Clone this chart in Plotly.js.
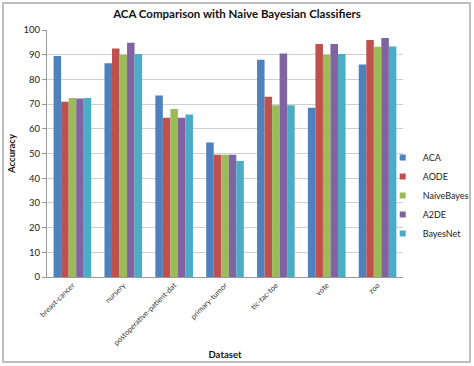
<!DOCTYPE html>
<html><head><meta charset="utf-8">
<script src="https://cdn.plot.ly/plotly-3.0.1.min.js"></script>
<style>html,body{margin:0;padding:0;background:#fff}#c{width:474px;height:366px}</style>
</head><body><div id="c"></div>
<script>
const categories = ["breast-cancer","nursery","postoperative-patient-dat","primary-tumor","tic-tac-toe","vote","zoo"];
const seriesNames = ["ACA","AODE","NaiveBayes","A2DE","BayesNet"];
const ACA = [89.5, 86.5, 73.5, 54.5, 88, 68.5, 86];
const AODE = [71, 92.5, 64.5, 49.5, 73, 94.3, 96];
const NaiveBayes = [72.5, 90, 68, 49.5, 69.5, 90, 93.2];
const A2DE = [72.3, 94.8, 64.5, 49.5, 90.5, 94.3, 96.8];
const BayesNet = [72.5, 90.3, 65.8, 47, 69.5, 90.3, 93.3];
const values = [ACA, AODE, NaiveBayes, A2DE, BayesNet];
const colors = ["#4F81BD","#C0504D","#9BBB59","#8064A2","#4BACC6"];
const yTicks = [0,10,20,30,40,50,60,70,80,90,100];

const font = "Lato, 'Open Sans', sans-serif";
const traces = seriesNames.map((n,i)=>({type:'bar', name:n, x:categories, y:values[i], marker:{color:colors[i]}, showlegend:false, legendgroup:n}));
// legend-only entries with small square keys (like the original)
seriesNames.forEach((n,i)=>traces.push({type:'scatter', mode:'markers', name:n, x:[null], y:[null], legendgroup:n,
  marker:{symbol:'square', size:6, color:colors[i]}, hoverinfo:'skip'}));
const layout = {
  width:474, height:366,
  margin:{l:47, r:71, t:30, b:89, autoexpand:false},
  paper_bgcolor:'#fff', plot_bgcolor:'#fff',
  font:{family:font, color:'#222'},
  title:{text:'<b>ACA Comparison with Naive Bayesian Classifiers</b>', font:{size:11.5, family:font, color:'#111'}, x:0.5, xanchor:'center', y:0.962, yanchor:'middle'},
  barmode:'group', bargap:0.26, bargroupgap:0,
  xaxis:{tickangle:-45, tickfont:{size:7.5, color:'#333'}, showline:true, linecolor:'#999', linewidth:1, ticks:'outside', ticklen:0,
         title:{text:'<b>Dataset</b>', font:{size:9.5, color:'#111'}, standoff:4}},
  yaxis:{range:[0,100], tickvals:yTicks, tickfont:{size:9.5, color:'#222'}, gridcolor:'#cfcfcf', gridwidth:1, showline:true, linecolor:'#999', zeroline:false,
         ticks:'outside', ticklen:4, tickcolor:'#999',
         title:{text:'<b>Accuracy</b>', font:{size:9.5, color:'#111'}, standoff:6}},
  legend:{x:0.943, xanchor:'left', y:0.33, yanchor:'middle', font:{size:9, color:'#222'}, itemwidth:30, tracegroupgap:0, bgcolor:'rgba(0,0,0,0)'},
  shapes:[{type:'rect', xref:'paper', yref:'paper', x0:-44/356, x1:(470-47)/356, y0:-(362-277)/247, y1:(277-3)/247, line:{color:'#bdbdbd', width:2}, layer:'below'}]
};
Plotly.newPlot('c', traces, layout, {displayModeBar:false, staticPlot:true});
</script></body></html>
